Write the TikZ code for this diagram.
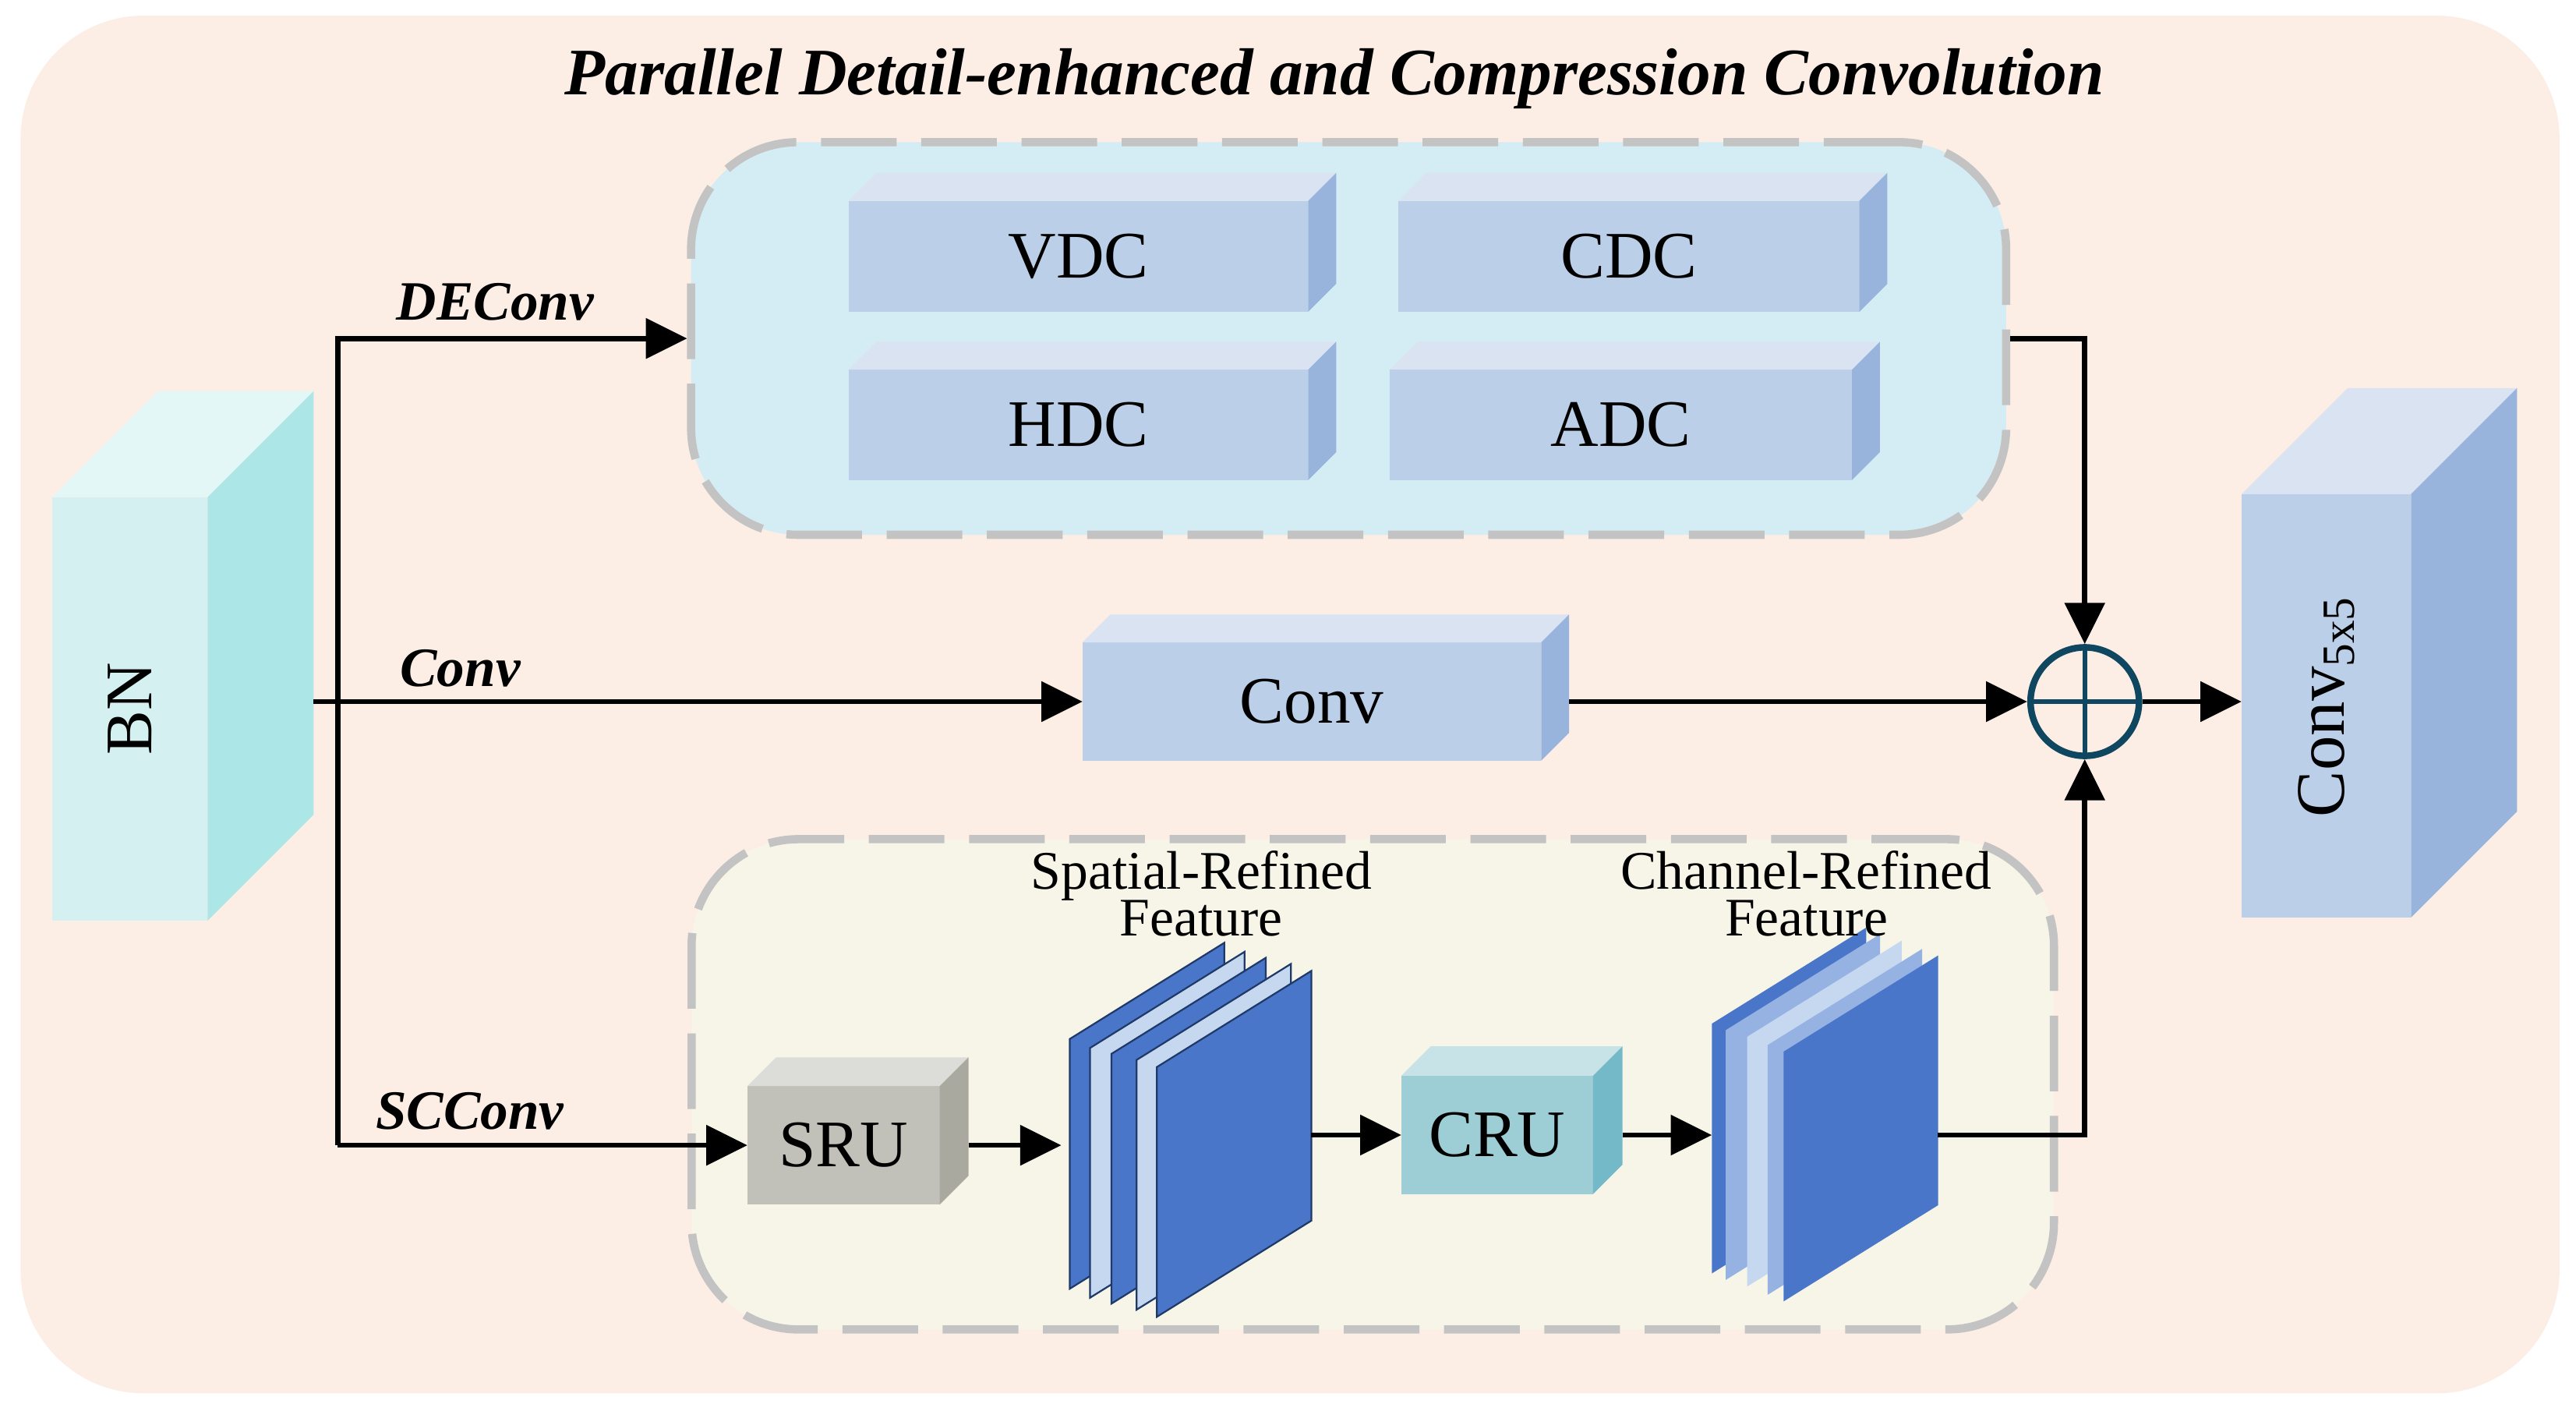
\documentclass[tikz,border=0pt]{standalone}
\usepackage{fontspec}
\setmainfont{Liberation Serif}
\usepackage{graphicx}
\usetikzlibrary{arrows.meta}
\definecolor{BgPeach}{HTML}{FCEEE5}
\definecolor{DEFill}{HTML}{D4ECF3}
\definecolor{SCFill}{HTML}{F7F5E8}
\definecolor{DashGray}{HTML}{C3C3C3}
\definecolor{BlueF}{HTML}{BBCFE8}
\definecolor{BlueT}{HTML}{DAE3F2}
\definecolor{BlueS}{HTML}{98B4DC}
\definecolor{BNF}{HTML}{D4F0F0}
\definecolor{BNT}{HTML}{E4F7F7}
\definecolor{BNS}{HTML}{ADE6E6}
\definecolor{GrayF}{HTML}{C2C1B9}
\definecolor{GrayT}{HTML}{DCDCD8}
\definecolor{GrayS}{HTML}{A9A9A0}
\definecolor{TealF}{HTML}{9DCDD5}
\definecolor{TealT}{HTML}{C7E3E8}
\definecolor{TealS}{HTML}{74B9C8}
\definecolor{SheetBlue}{HTML}{4A76CA}
\definecolor{SheetMid}{HTML}{95B2E2}
\definecolor{SheetLight}{HTML}{C5D8F0}
\definecolor{SheetEdge}{HTML}{1F3A68}
\definecolor{SumTeal}{HTML}{0F4761}
\tikzstyle{Line}=[line width=0.032cm, black]
\tikzstyle{Arrow}=[Line, -{Triangle[length=0.25cm, width=0.24cm]}]
\tikzstyle{DashBox}=[rectangle, rounded corners=0.65cm, draw=DashGray, line width=0.05cm, dash pattern=on 0.46cm off 0.15cm, inner sep=0pt]
\tikzstyle{DEBox}=[DashBox, fill=DEFill]
\tikzstyle{SCBox}=[DashBox, fill=SCFill]
\tikzstyle{CubeFront}=[rectangle, inner sep=0pt, outer sep=0pt, font=\fontsize{11.5}{13}\selectfont]
\tikzstyle{BlueFront}=[CubeFront, fill=BlueF]
\tikzstyle{BlueTop}=[fill=BlueT]
\tikzstyle{BlueSide}=[fill=BlueS]
\tikzstyle{BNFront}=[CubeFront, fill=BNF]
\tikzstyle{BNTop}=[fill=BNT]
\tikzstyle{BNSide}=[fill=BNS]
\tikzstyle{GrayFront}=[CubeFront, fill=GrayF]
\tikzstyle{GrayTop}=[fill=GrayT]
\tikzstyle{GraySide}=[fill=GrayS]
\tikzstyle{TealFront}=[CubeFront, fill=TealF]
\tikzstyle{TealTop}=[fill=TealT]
\tikzstyle{TealSide}=[fill=TealS]
\tikzstyle{TitleText}=[font=\fontsize{11.5}{13}\selectfont\bfseries\itshape, anchor=base, inner sep=0pt]
\tikzstyle{PathLabel}=[font=\fontsize{9.6}{11}\selectfont\bfseries\itshape, anchor=base, inner sep=0pt]
\tikzstyle{FeatLabel}=[font=\fontsize{9.4}{8.2}\selectfont, align=center, anchor=base, inner sep=0pt]
\tikzstyle{Sheet}=[draw=SheetEdge, line width=0.3pt]
\tikzstyle{SumNode}=[circle, draw=SumTeal, line width=0.04cm, minimum size=0.66cm, inner sep=0pt,
  path picture={\draw[SumTeal, line width=0.03cm] (path picture bounding box.north) -- (path picture bounding box.south) (path picture bounding box.west) -- (path picture bounding box.east);}]
\newcommand{\Faces}[3]{%
  \fill[#3Top] (#1.north west) -- ++(#2,-#2) -- ([shift={(#2,-#2)}]#1.north east) -- (#1.north east) -- cycle;
  \fill[#3Side] (#1.north east) -- ++(#2,-#2) -- ([shift={(#2,-#2)}]#1.south east) -- (#1.south east) -- cycle;
  \coordinate (#1r) at ([shift={(#2,0)}]#1.east);
}
\begin{document}
\begin{tikzpicture}[x=0.01cm, y=-0.01cm]
\useasboundingbox (0,0) rectangle (1568,858.6);
\fill[BgPeach, rounded corners=0.75cm] (12.5,9.5) rectangle (1558,848);
\node[TitleText] (Title) at (812.3,57.7) {Parallel Detail-enhanced and Compression Convolution};

\node[DEBox, minimum width=8cm, minimum height=2.388cm] (DEbox) at (820.9,206) {};
\node[SCBox, minimum width=8.288cm, minimum height=2.982cm] (SCbox) at (835.6,659.9) {};

\node[BNFront, minimum width=0.946cm, minimum height=2.576cm] (BN) at (79.1,431.4) {\rotatebox{90}{BN}};
\Faces{BN}{64.5}{BN}
\node[BlueFront, minimum width=2.795cm, minimum height=0.675cm] (VDC) at (656.5,156) {VDC};
\Faces{VDC}{17}{Blue}
\node[BlueFront, minimum width=2.804cm, minimum height=0.675cm] (CDC) at (991.5,156) {CDC};
\Faces{CDC}{17}{Blue}
\node[BlueFront, minimum width=2.795cm, minimum height=0.672cm] (HDC) at (656.5,258.6) {HDC};
\Faces{HDC}{17}{Blue}
\node[BlueFront, minimum width=2.81cm, minimum height=0.672cm] (ADC) at (986.7,258.6) {ADC};
\Faces{ADC}{17}{Blue}
\node[BlueFront, minimum width=2.79cm, minimum height=0.72cm] (ConvB) at (798.5,427) {Conv};
\Faces{ConvB}{17}{Blue}
\node[BlueFront, minimum width=1.031cm, minimum height=2.576cm, font=\fontsize{12}{14}\selectfont] (C55) at (1416,429.6) {\rotatebox{90}{Conv\textsubscript{5x5}}};
\Faces{C55}{64.5}{Blue}
\node[GrayFront, minimum width=1.17cm, minimum height=0.72cm] (SRU) at (513.5,697) {SRU};
\Faces{SRU}{17.5}{Gray}
\node[TealFront, minimum width=1.166cm, minimum height=0.72cm] (CRU) at (911.3,690.8) {CRU};
\Faces{CRU}{18}{Teal}

\foreach \x/\y/\c in {651.2/632.3/SheetBlue, 663.5/637.8/SheetLight, 676.5/641.4/SheetBlue, 691.8/645.1/SheetLight, 704.2/649.4/SheetBlue}
  \filldraw[Sheet, fill=\c] (\x,\y) -- ++(94,-58.5) -- ++(0,152) -- ++(-94,58.5) -- cycle;
\foreach \x/\y/\c in {1042/623/SheetBlue, 1050.4/627/SheetMid, 1063.5/631/SheetLight, 1076/636/SheetMid, 1085.7/640/SheetBlue}
  \fill[\c] (\x,\y) -- ++(94,-58.5) -- ++(0,152) -- ++(-94,58.5) -- cycle;
\coordinate (SRFin) at (646,697);
\coordinate (SRFout) at (798.2,690.8);
\coordinate (CRFin) at (1042,690.8);
\coordinate (CRFout) at (1179.5,690.8);
\coordinate (Trunk) at (205.6,427);
\node[FeatLabel] (SRFlabel) at (731.3,569.7) {Spatial-Refined\\Feature};
\node[FeatLabel] (CRFlabel) at (1099.5,569.7) {Channel-Refined\\Feature};

\node[SumNode] (Sum) at (1269,427) {};

\draw[Arrow] (BNr |- ConvB.west) -- (ConvB.west);
\draw[Arrow] (Trunk |- SRU.west) -- (Trunk |- DEbox.west) -- (DEbox.west);
\draw[Arrow] (Trunk |- SRU.west) -- (SRU.west);
\draw[Arrow] (DEbox.east) -| (Sum.north);
\draw[Arrow] (ConvBr) -- (Sum.west);
\draw[Arrow] (Sum.east) -- (Sum.east -| C55.west);
\draw[Arrow] (SRUr) -- (SRFin);
\draw[Arrow] (SRFout) -- (CRU.west);
\draw[Arrow] (CRUr) -- (CRFin);
\draw[Arrow] (CRFout) -| (Sum.south);

\node[PathLabel] (DELabel) at (301.5,194.7) {DEConv};
\node[PathLabel] (ConvLabel) at (280.2,417.7) {Conv};
\node[PathLabel] (SCLabel) at (286,687.4) {SCConv};
\end{tikzpicture}
\end{document}
